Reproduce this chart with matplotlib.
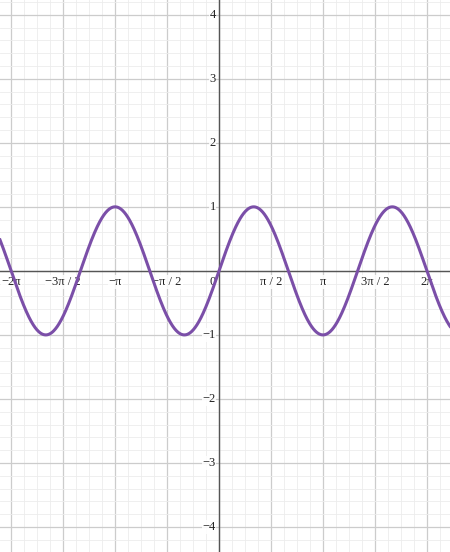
import numpy as np
import matplotlib.pyplot as plt

# curve: y = sin(k x)
freq = 1.5
x_range = (-6.62, 6.98)
y_range = (-4.39, 4.23)

x_tick_pos = [-2, -1.5, -1, -0.5, 0.5, 1, 1.5, 2]  # multiples of pi
x_tick_labels = ["−2π", "−3π / 2", "−π", "−π / 2", "π / 2", "π", "3π / 2", "2π"]
y_ticks = [-4, -3, -2, -1, 1, 2, 3, 4]

fig = plt.figure(figsize=(4.5, 5.52), dpi=100)
ax = fig.add_axes([0, 0, 1, 1])
ax.set_xlim(*x_range)
ax.set_ylim(*y_range)

# grid
for i in range(-40, 41):
    xv = i * np.pi / 8
    major = i % 4 == 0
    ax.axvline(xv, color="#cccccc" if major else "#ececec", lw=0.9 if major else 0.6, zorder=0)
for i in range(-25, 26):
    yv = i * 0.2
    major = i % 5 == 0
    ax.axhline(yv, color="#cccccc" if major else "#ececec", lw=0.9 if major else 0.6, zorder=0)

ax.axhline(0, color="#555555", lw=1.0, zorder=1)
ax.axvline(0, color="#555555", lw=1.0, zorder=1)

xs = np.linspace(x_range[0], x_range[1], 1000)
ax.plot(xs, np.sin(freq * xs), color="#7b4fa8", lw=2.2, zorder=3)

bbox = dict(facecolor="white", edgecolor="none", pad=0.5, alpha=0.85)
for p, lab in zip(x_tick_pos, x_tick_labels):
    ax.text(p * np.pi, -0.08, lab, ha="center", va="top", fontsize=9,
            family="Liberation Serif", color="#222222", bbox=bbox, zorder=2)
for yv in y_ticks:
    ax.text(-0.1, yv, str(yv).replace("-", "−"), ha="right", va="center", fontsize=9,
            family="Liberation Serif", color="#222222", bbox=bbox, zorder=2)
ax.text(-0.1, -0.08, "0", ha="right", va="top", fontsize=9,
        family="Liberation Serif", color="#222222", zorder=2)

ax.set_xticks([])
ax.set_yticks([])
for s in ax.spines.values():
    s.set_visible(False)

fig.savefig("out.png", dpi=100)
